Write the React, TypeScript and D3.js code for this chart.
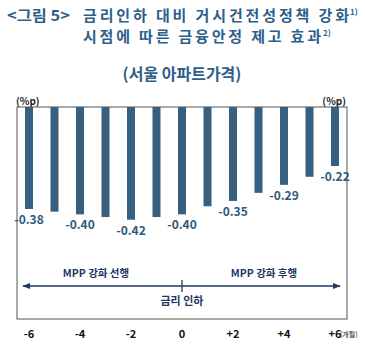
import React from "react";
import * as d3 from "d3";

const months = [-6, -5, -4, -3, -2, -1, 0, 1, 2, 3, 4, 5, 6];
const values = [-0.38, -0.39, -0.4, -0.41, -0.42, -0.41, -0.4, -0.37, -0.35, -0.32, -0.29, -0.26, -0.22];
const tickMonths = [-6, -4, -2, 0, 2, 4, 6];
const tickLabels = ["-6", "-4", "-2", "0", "+2", "+4", "+6"];
const titleLine1a = "<그림 5>";
const titleLine1b = "금리인하 대비 거시건전성정책 강화";
const titleLine2 = "시점에 따른 금융안정 제고 효과";
const subtitle = "(서울 아파트가격)";
const unitLabel = "(%p)";
const leftNote = "MPP 강화 선행";
const rightNote = "MPP 강화 후행";
const centerNote = "금리 인하";

const W = 365;
const H = 351;
const box = { left: 17, right: 347, top: 107, bottom: 319 };
const FONT = "'Noto Sans CJK KR', 'Noto Sans', sans-serif";
const TITLE_C = "#2e5f8a";
const BAR_C = "#365f80";
const NAVY = "#1f3864";

export default function App() {
  const x = d3.scaleLinear().domain([-6, 6]).range([29, 335]);
  const y = d3.scaleLinear().domain([0, -0.79]).range([box.top, box.bottom]);
  const bw = 8;
  const arrowY = 286;

  return (
    <svg width={W} height={H} style={{ position: "absolute", left: 0, top: 0, background: "#fff" }} fontFamily={FONT}>
      {/* titles */}
      <g fill={TITLE_C} fontWeight="bold">
        <text x={7} y={21} fontSize={15} textLength={63} lengthAdjust="spacingAndGlyphs">{titleLine1a}</text>
        <text x={83} y={21} fontSize={15} textLength={266} lengthAdjust="spacing">{titleLine1b}</text>
        <text x={350} y={15} fontSize={8}>1)</text>
        <text x={83} y={42} fontSize={15} textLength={238} lengthAdjust="spacing">{titleLine2}</text>
        <text x={323} y={36} fontSize={8}>2)</text>
        <text x={182} y={80} fontSize={16} textAnchor="middle">{subtitle}</text>
      </g>
      {/* unit labels */}
      <text x={16} y={105} fontSize={10} fill="#222" fontWeight="bold">{unitLabel}</text>
      <text x={346} y={105} fontSize={10} fill="#222" fontWeight="bold" textAnchor="end">{unitLabel}</text>
      {/* box */}
      <rect x={box.left} y={box.top} width={box.right - box.left} height={box.bottom - box.top} fill="none" stroke="#555" strokeWidth={1} />
      {/* bars */}
      {values.map((v, i) => (
        <rect key={i} x={x(months[i]) - bw / 2} y={y(0)} width={bw} height={y(v) - y(0)} fill={BAR_C} />
      ))}
      {/* value labels */}
      {values.map((v, i) =>
        i % 2 === 0 ? (
          <text key={"l" + i} x={x(months[i])} y={y(v) + 15} fontSize={12} fontWeight="bold" fill="#2e5a7a" textAnchor="middle">
            {v.toFixed(2)}
          </text>
        ) : null
      )}
      {/* arrow */}
      <defs>
        <marker id="ah" viewBox="0 0 10 10" refX="9" refY="5" markerWidth="6" markerHeight="6" orient="auto-start-reverse">
          <path d="M0,1 L10,5 L0,9 z" fill={NAVY} />
        </marker>
      </defs>
      <line x1={23} x2={340} y1={arrowY} y2={arrowY} stroke={NAVY} strokeWidth={1.3} markerStart="url(#ah)" markerEnd="url(#ah)" />
      <line x1={x(0)} x2={x(0)} y1={arrowY - 6} y2={arrowY + 6} stroke={NAVY} strokeWidth={1.3} />
      <text x={96} y={277} fontSize={10.5} fill={NAVY} fontWeight="bold" textAnchor="middle">{leftNote}</text>
      <text x={264} y={277} fontSize={10.5} fill={NAVY} fontWeight="bold" textAnchor="middle">{rightNote}</text>
      <text x={x(0)} y={305} fontSize={11} fill={NAVY} fontWeight="bold" textAnchor="middle">{centerNote}</text>
      {/* x ticks */}
      {tickMonths.map((m, i) => (
        <text key={"t" + i} x={x(m)} y={338} fontSize={11} fontWeight="bold" fill="#111" textAnchor="middle">
          {tickLabels[i]}
        </text>
      ))}
      <text x={340} y={337} fontSize={7} fill="#111">(개월)</text>
    </svg>
  );
}
